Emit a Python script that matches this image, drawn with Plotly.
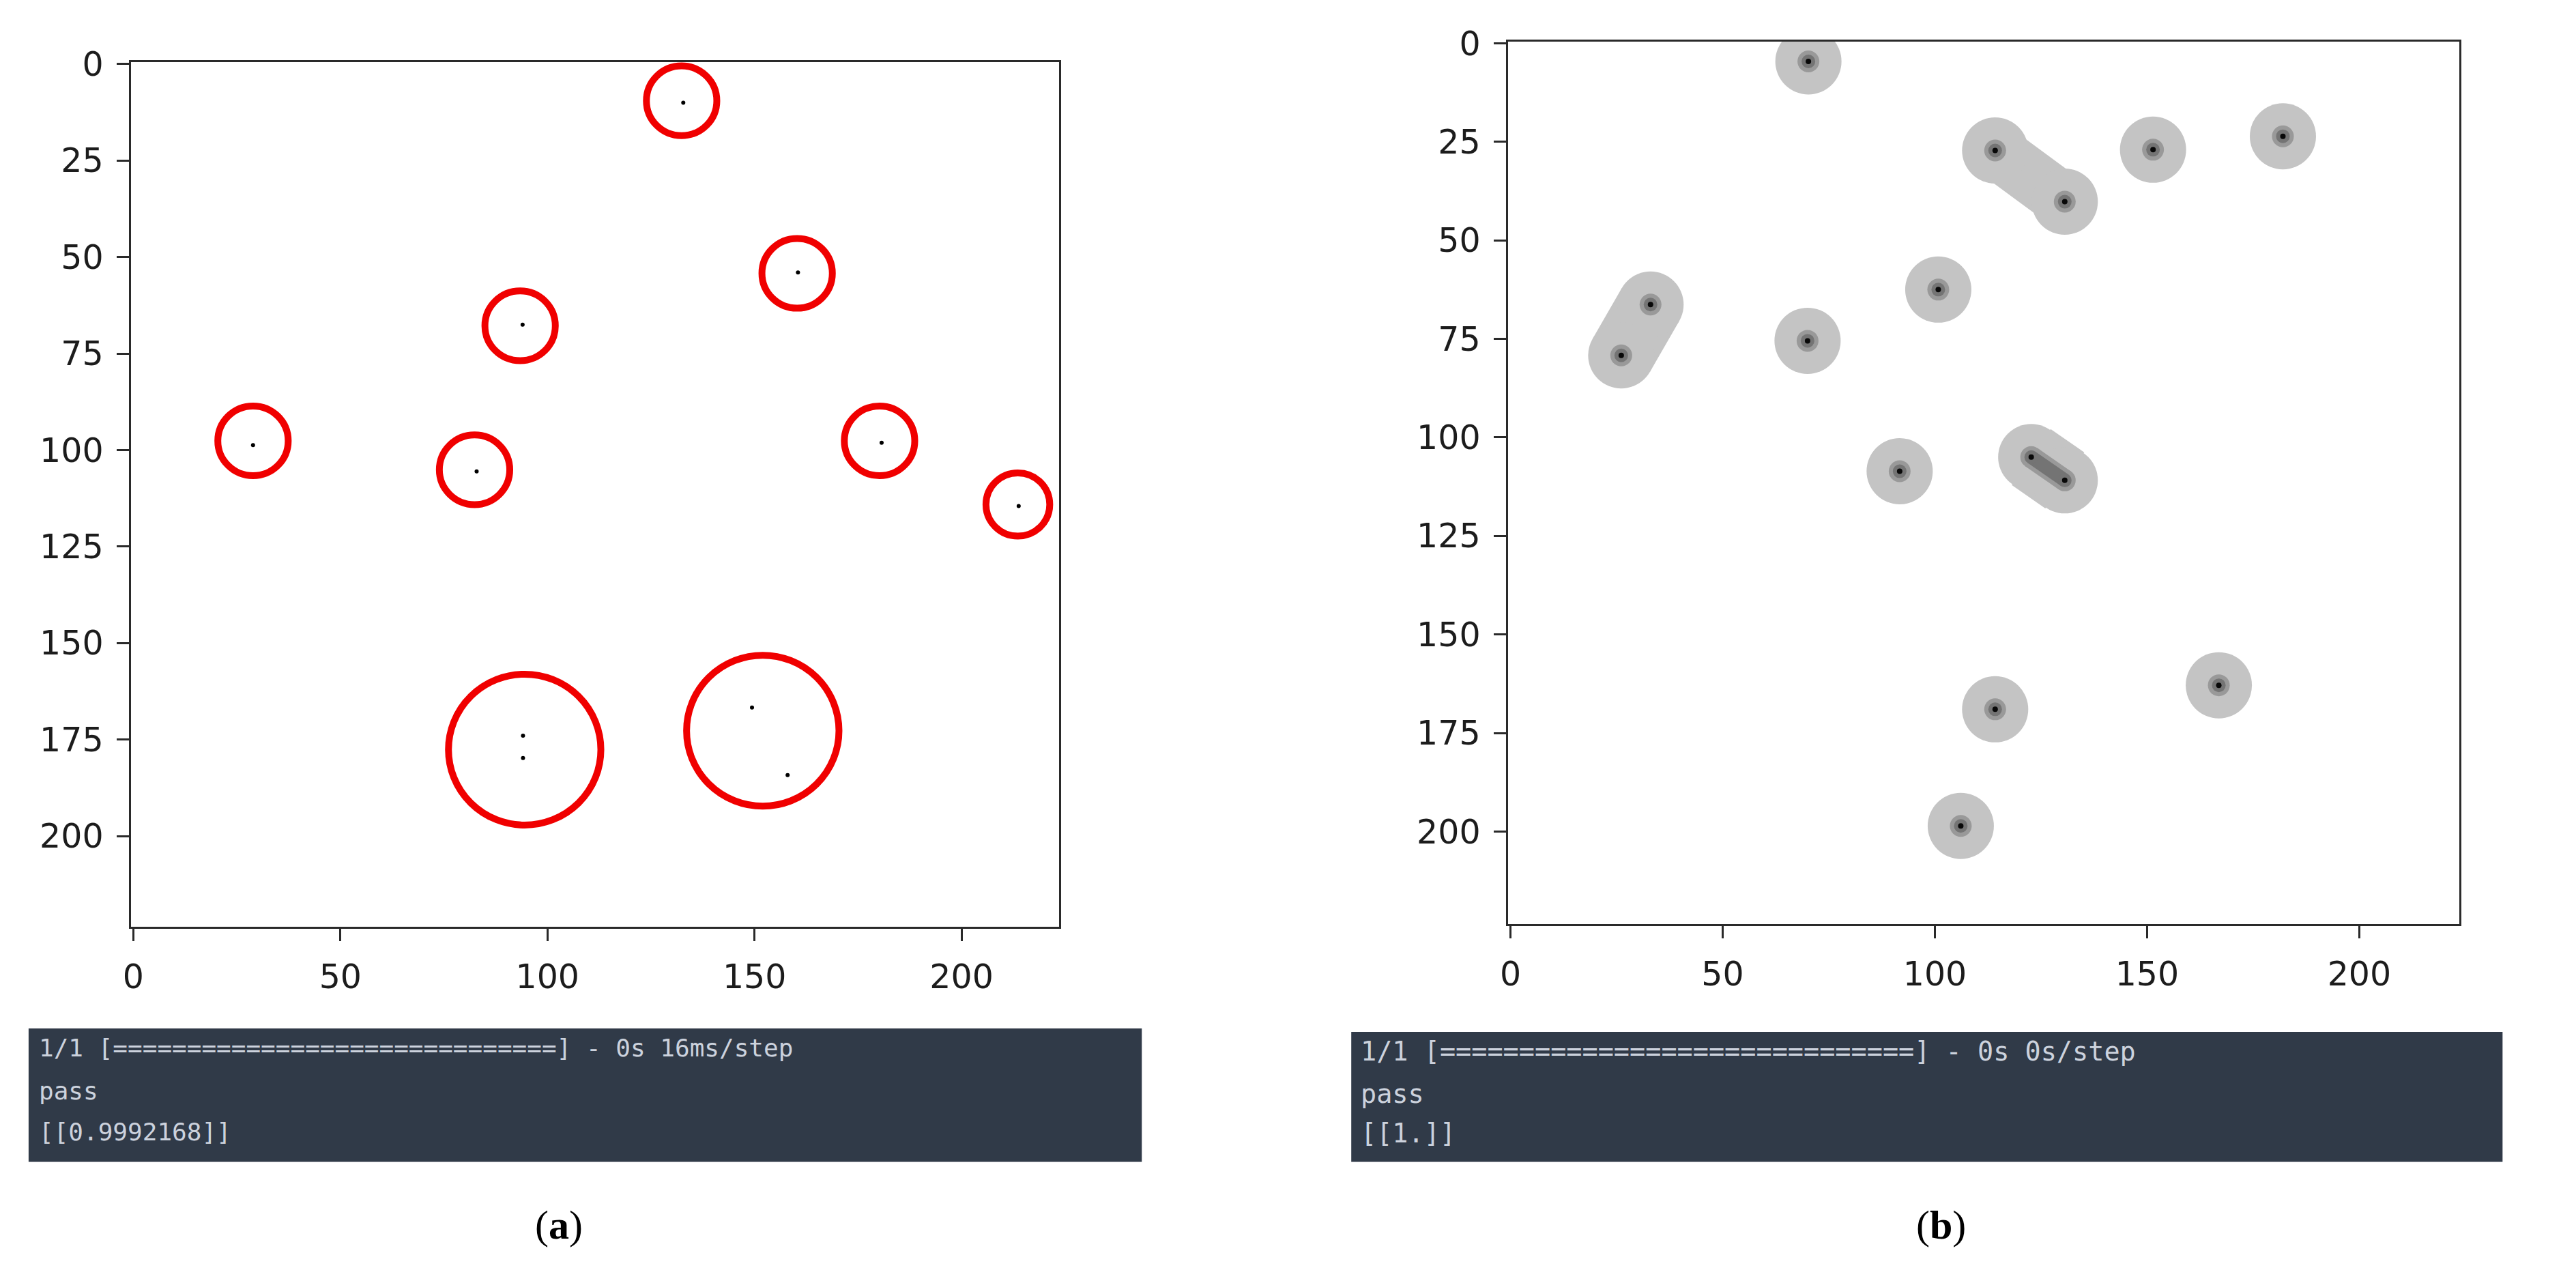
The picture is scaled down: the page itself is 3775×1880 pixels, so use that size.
import plotly.graph_objects as go

W, H = 3775, 1880

# ---------------- data ----------------
# panel (a): detected circles (centre x, centre y, radius in image units) and points
x_ticks = [0, 50, 100, 150, 200]
y_ticks = [0, 25, 50, 75, 100, 125, 150, 175, 200]

circle_cx = [132.4, 160.3, 93.4, 28.9, 82.4, 180.2, 213.6, 94.5, 152.0]
circle_cy = [9.5, 54.2, 67.8, 97.6, 105.1, 97.6, 114.1, 177.6, 172.7]
circle_r = [8.5, 8.5, 8.5, 8.5, 8.5, 8.5, 7.7, 18.4, 18.4]

pts_a_x = [132.8, 160.5, 94.0, 28.9, 82.9, 180.7, 213.8, 94.1, 94.1, 149.4, 158.0]
pts_a_y = [10.0, 54.0, 67.5, 98.7, 105.5, 98.1, 114.5, 174.0, 179.8, 166.7, 184.2]

# panel (b): points with their blurred neighbourhoods
pts_b_x = [70.2, 114.2, 130.6, 151.4, 182.0, 33.0, 26.1, 70.0, 100.8, 91.7, 122.7, 130.6, 166.9, 114.2, 106.1]
pts_b_y = [4.6, 27.2, 40.2, 27.0, 23.6, 66.3, 79.2, 75.5, 62.5, 108.6, 105.0, 110.9, 162.9, 169.0, 198.6]
pair_first = [1, 5, 10]
pair_second = [2, 6, 11]

console_a = ["1/1 [==============================] - 0s 16ms/step", "pass", "[[0.9992168]]"]
console_b = ["1/1 [==============================] - 0s 0s/step", "pass", "[[1.]]"]

# ---------------- styles ----------------
LIGHT = "#c4c4c4"
MID = "#999999"
DARK = "#747474"
pair_light_w = [80, 97, 100]
pair_dark = [False, False, True]

# pixel geometry of the two panels
A_X = (180, 1544); A_Y = (67, 1351)
B_X = (2205, 3603); B_Y = (36, 1347)

fig = go.Figure()

# panel (a) points
fig.add_trace(go.Scatter(x=pts_a_x, y=pts_a_y, mode="markers", xaxis="x", yaxis="y",
                         marker=dict(size=6, color="#000000"), hoverinfo="skip"))

# circles as shapes (round on screen)
kx = (A_X[1] - A_X[0]) / 224.0
ky = (A_Y[1] - A_Y[0]) / 224.0
for cx, cy, r in zip(circle_cx, circle_cy, circle_r):
    ry = r * kx / ky
    fig.add_shape(type="circle", xref="x", yref="y", x0=cx - r, x1=cx + r, y0=cy - ry, y1=cy + ry,
                  line=dict(color="#f00000", width=10), layer="above")

# panel (b)
for i, (a, b) in enumerate(zip(pair_first, pair_second)):
    fig.add_trace(go.Scatter(x=[pts_b_x[a], pts_b_x[b]], y=[pts_b_y[a], pts_b_y[b]], mode="lines",
                             xaxis="x2", yaxis="y2", line=dict(color=LIGHT, width=pair_light_w[i]),
                             hoverinfo="skip"))
fig.add_trace(go.Scatter(x=pts_b_x, y=pts_b_y, mode="markers", xaxis="x2", yaxis="y2",
                         marker=dict(size=97, color=LIGHT, line=dict(width=0)), hoverinfo="skip"))
for i, (a, b) in enumerate(zip(pair_first, pair_second)):
    if pair_dark[i]:
        fig.add_trace(go.Scatter(x=[pts_b_x[a], pts_b_x[b]], y=[pts_b_y[a], pts_b_y[b]], mode="lines",
                                 xaxis="x2", yaxis="y2", line=dict(color=MID, width=32), hoverinfo="skip"))
fig.add_trace(go.Scatter(x=pts_b_x, y=pts_b_y, mode="markers", xaxis="x2", yaxis="y2",
                         marker=dict(size=32, color=MID, line=dict(width=0)), hoverinfo="skip"))
for i, (a, b) in enumerate(zip(pair_first, pair_second)):
    if pair_dark[i]:
        fig.add_trace(go.Scatter(x=[pts_b_x[a], pts_b_x[b]], y=[pts_b_y[a], pts_b_y[b]], mode="lines",
                                 xaxis="x2", yaxis="y2", line=dict(color=DARK, width=20), hoverinfo="skip"))
fig.add_trace(go.Scatter(x=pts_b_x, y=pts_b_y, mode="markers", xaxis="x2", yaxis="y2",
                         marker=dict(size=20, color=DARK, line=dict(width=0)), hoverinfo="skip"))
fig.add_trace(go.Scatter(x=pts_b_x, y=pts_b_y, mode="markers", xaxis="x2", yaxis="y2",
                         marker=dict(size=8, color="#080808", line=dict(width=0)), hoverinfo="skip"))

axis_common = dict(showline=True, mirror=True, linecolor="#2a2a2a", linewidth=3,
                   ticks="outside", ticklen=18, tickwidth=3, tickcolor="#2a2a2a",
                   showgrid=False, zeroline=False, ticklabelstandoff=10,
                   tickfont=dict(family="DejaVu Sans", size=49, color="#1c1c1c"))

fig.update_layout(
    width=W, height=H, margin=dict(l=0, r=0, t=0, b=0),
    paper_bgcolor="white", plot_bgcolor="white", showlegend=False,
    xaxis=dict(domain=[A_X[0] / W, A_X[1] / W], range=[-0.5, 223.5], tickvals=x_ticks,
               anchor="y", **axis_common),
    yaxis=dict(domain=[1 - A_Y[1] / H, 1 - A_Y[0] / H], range=[223.5, -0.5], tickvals=y_ticks,
               anchor="x", **axis_common),
    xaxis2=dict(domain=[B_X[0] / W, B_X[1] / W], range=[-0.5, 223.5], tickvals=x_ticks,
                anchor="y2", **axis_common),
    yaxis2=dict(domain=[1 - B_Y[1] / H, 1 - B_Y[0] / H], range=[223.5, -0.5], tickvals=y_ticks,
                anchor="x2", **axis_common),
)

# console boxes
BOX_COLOR = "#303a48"
TXT_COLOR = "#ccd2dd"
boxes = [
    dict(x0=29, x1=1666, y0=1502, y1=1700, lines=console_a, tx=42, ty=[1531, 1595, 1656], size=36),
    dict(x0=1974, x1=3667, y0=1507, y1=1700, lines=console_b, tx=1986, ty=[1536, 1599, 1658], size=38.5),
]
for bx in boxes:
    fig.add_shape(type="rect", xref="paper", yref="paper", x0=bx["x0"] / W, x1=bx["x1"] / W,
                  y0=1 - bx["y1"] / H, y1=1 - bx["y0"] / H, fillcolor=BOX_COLOR, line=dict(width=0),
                  layer="below")
    for txt, ty in zip(bx["lines"], bx["ty"]):
        fig.add_annotation(text=txt, xref="paper", yref="paper", x=bx["tx"] / W, y=1 - ty / H,
                           xanchor="left", yanchor="middle", showarrow=False,
                           font=dict(family="DejaVu Sans Mono", size=bx["size"], color=TXT_COLOR))

# panel labels
for lab, px in [("(<b>a</b>)", 809), ("(<b>b</b>)", 2841)]:
    fig.add_annotation(text=lab, xref="paper", yref="paper", x=px / W, y=1 - 1794 / H,
                       xanchor="center", yanchor="middle", showarrow=False,
                       font=dict(family="Liberation Serif", size=60, color="#000000"))

fig.write_html("out.html", config={"displayModeBar": False},
               post_script="document.body.style.margin='0';document.body.style.overflow='hidden';")
